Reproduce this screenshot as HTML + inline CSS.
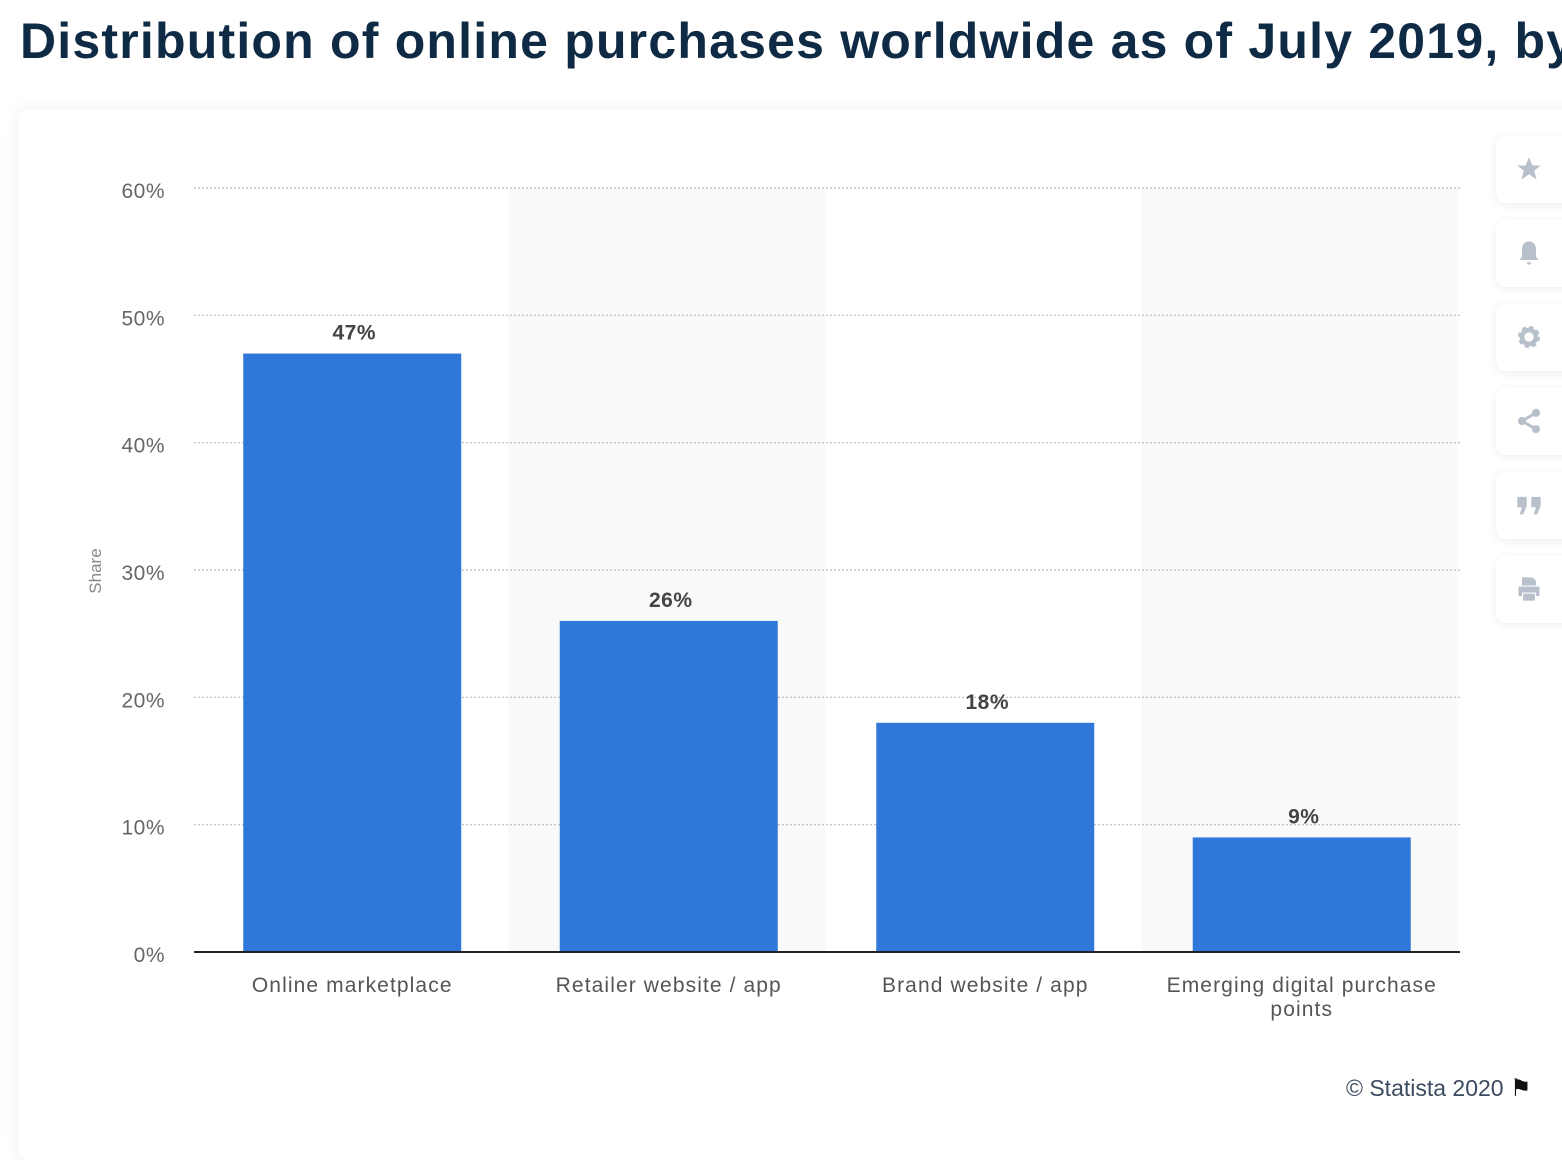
<!DOCTYPE html>
<html><head><meta charset="utf-8"><style>
body{margin:0;width:1562px;height:1112px;overflow:hidden;background:#fff;font-family:"Liberation Sans",sans-serif;position:relative}
.title{position:absolute;left:20px;top:12px;font-size:50px;font-weight:bold;color:#0f2a44;white-space:nowrap;letter-spacing:1.2px}
.card{position:absolute;left:18px;top:110px;width:1600px;height:1050px;background:#fff;border-radius:10px;box-shadow:0 0 18px rgba(0,0,0,0.07)}
.btn{position:absolute;left:1496px;width:80px;height:67px;background:#fff;border-radius:10px;box-shadow:0 2px 10px rgba(0,0,0,0.07)}
.btn svg{position:absolute;left:19px;top:19px}
.footer{position:absolute;left:1346px;top:1074px;font-size:23px;color:#3b4a5e;white-space:nowrap}
</style></head><body>
<div class="title">Distribution of online purchases worldwide as of July 2019, by</div>
<div class="card"></div>
<svg id="chart" width="1562" height="1112" style="position:absolute;left:0;top:0"></svg>
<div class="btn" style="top:136px"><svg width="28" height="28" viewBox="0 0 24 24"><path d="M12 2l3 7h7l-5.5 4.5 2 7.5-6.5-4.5-6.5 4.5 2-7.5L2 9h7z" fill="#b8c0cb"/></svg></div>
<div class="btn" style="top:220px"><svg width="28" height="28" viewBox="0 0 24 24"><path d="M12 2c-4 0-6 3-6 7v6l-2 3h16l-2-3V9c0-4-2-7-6-7zM10 20a2 2 0 004 0z" fill="#b8c0cb"/></svg></div>
<div class="btn" style="top:304px"><svg width="28" height="28" viewBox="0 0 24 24"><circle cx="12" cy="12" r="7" fill="none" stroke="#b8c0cb" stroke-width="5" stroke-dasharray="3 2.5"/><circle cx="12" cy="12" r="6" fill="none" stroke="#b8c0cb" stroke-width="4"/></svg></div>
<div class="btn" style="top:388px"><svg width="28" height="28" viewBox="0 0 24 24"><circle cx="18" cy="5" r="3.5" fill="#b8c0cb"/><circle cx="6" cy="12" r="3.5" fill="#b8c0cb"/><circle cx="18" cy="19" r="3.5" fill="#b8c0cb"/><path d="M18 5L6 12l12 7" stroke="#b8c0cb" stroke-width="2.5" fill="none"/></svg></div>
<div class="btn" style="top:472px"><svg width="28" height="28" viewBox="0 0 24 24"><path d="M2 5h8v8l-3 7H4l2-6H2zM14 5h8v8l-3 7h-3l2-6h-4z" fill="#b8c0cb"/></svg></div>
<div class="btn" style="top:556px"><svg width="28" height="28" viewBox="0 0 24 24"><path d="M6 2h9l3 3v4H6z M3 10h18v8h-3v-3H6v3H3z M7 16h10v6H7z" fill="#b8c0cb"/></svg></div>
<div class="footer">© Statista 2020 <span style="font-size:24px;color:#111">⚑</span></div>
<script>
const categories=[["Online marketplace"],["Retailer website / app"],["Brand website / app"],["Emerging digital purchase","points"]];
const values=[47,26,18,9];
const yTicks=[0,10,20,30,40,50,60];
const NS="http://www.w3.org/2000/svg";
const svg=document.getElementById('chart');
const x0=194,x1=1460,yb=952,yt=188,ymax=60;
const y=v=>yb-(v/ymax)*(yb-yt);
const bw=(x1-x0)/categories.length;
const bx=i=>x0+i*bw;
function mk(t,a,txt){const e=document.createElementNS(NS,t);for(const k in a)e.setAttribute(k,a[k]);if(txt!==undefined)e.textContent=txt;svg.appendChild(e);return e;}
categories.forEach((c,i)=>{if(i%2==1){const r=mk('rect',{x:bx(i)-2,y:yt,width:bw,height:yb-yt,fill:'#f9f9f9'});

}});
yTicks.forEach(t=>{
 if(t>0){const l=mk('line',{x1:x0,x2:x1,y1:y(t),y2:y(t),stroke:'#bbb','stroke-width':1.2,'stroke-dasharray':'2 2'});
 
 }
 const tx=mk('text',{x:165,y:y(t)+10,'text-anchor':'end','font-size':21,fill:'#666','letter-spacing':'0.5','font-family':'Liberation Sans, sans-serif'},t+'%');
 
 
});
values.forEach((v,i)=>{
 const cx=bx(i)+bw/2;
 const r=mk('rect',{x:cx-109,y:y(v),width:218,height:yb-y(v),fill:'#2f78d9'});
 
 
 const t=mk('text',{x:cx+2,y:y(v)-14,'text-anchor':'middle','font-size':21,'font-weight':'bold',fill:'#444','letter-spacing':'0.5','font-family':'Liberation Sans, sans-serif'},v+'%');
 
 
 categories[i].forEach((line,j)=>{
  const c=mk('text',{x:cx,y:992+j*24,'text-anchor':'middle','font-size':21,fill:'#555','letter-spacing':'1.1','font-family':'Liberation Sans, sans-serif'},line);
  
  
 });
});
const ax=mk('line',{x1:x0,x2:x1,y1:yb,y2:yb,stroke:'#222','stroke-width':2});


const yt2=mk('text',{x:0,y:0,transform:'translate(101,571) rotate(-90)','text-anchor':'middle','font-size':17,fill:'#888','font-family':'Liberation Sans, sans-serif'},'Share');


</script>
</body></html>
